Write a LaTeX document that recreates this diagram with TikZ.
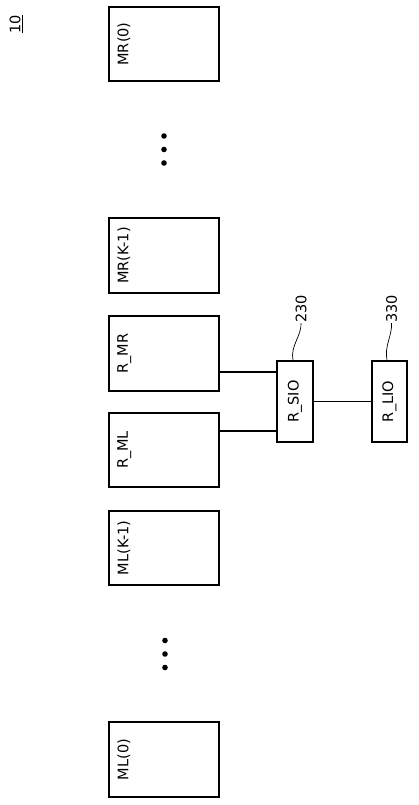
\documentclass[tikz,border=0pt]{standalone}
\usepackage{fontspec}
\setmainfont{DejaVu Sans}
\begin{document}
\begin{tikzpicture}[x=1pt,y=-1pt,
  box/.style={draw, line width=1.6pt, rectangle, inner sep=0pt},
  mem/.style={box, minimum width=110pt, minimum height=74.5pt},
  io/.style={box, minimum width=35.5pt, minimum height=81pt},
  lbl/.style={rotate=90, anchor=north, inner sep=0pt, font=\fontsize{14.5}{16}\selectfont},
  ctr/.style={rotate=90, inner sep=0pt, font=\fontsize{14.5}{16}\selectfont},
  wire/.style={line width=1.5pt},
  dot/.style={circle, fill, inner sep=0pt, minimum size=5.6pt}]
\useasboundingbox (0,0) rectangle (418,805);
% figure number
\node[ctr] (fig) at (16,24) {\underline{10}};
% memory blocks
\node[mem] (mr0) at (164,44) {};
\node[mem] (mrk) at (164,255.5) {};
\node[mem] (rmr) at (164,353.5) {};
\node[mem] (rml) at (164,450) {};
\node[mem] (mlk) at (164,548) {};
\node[mem] (ml0) at (164,759.5) {};
\node[lbl] at ([xshift=9pt]mr0.west) {MR(0)};
\node[lbl] at ([xshift=9pt]mrk.west) {MR(K-1)};
\node[lbl] at ([xshift=9pt]rmr.west) {R\_MR};
\node[lbl] at ([xshift=9pt]rml.west) {R\_ML};
\node[lbl] at ([xshift=9pt]mlk.west) {ML(K-1)};
\node[lbl] at ([xshift=9pt]ml0.west) {ML(0)};
% dots
\node[dot] (d1) at (164,136) {};
\node[dot] (d2) at (164,149.5) {};
\node[dot] (d3) at (164,163) {};
\node[dot] (d4) at (165,640.5) {};
\node[dot] (d5) at (165,654) {};
\node[dot] (d6) at (165,667.5) {};
% IO blocks
\node[io] (sio) at (295,401.5) {};
\node[io] (lio) at (389.5,401.5) {};
\node[ctr] at (sio.center) {R\_SIO};
\node[ctr] at (lio.center) {R\_LIO};
% connectors
\path ([yshift=-12pt]sio.north west) coordinate (s1);
\path ([yshift=12pt]sio.south west) coordinate (s2);
\draw[wire] (s1) -- (s1 -| rmr.east);
\draw[wire] (s2) -- (s2 -| rml.east);
\draw[wire] (sio.east) -- (lio.west);
% reference numerals
\node[ctr, anchor=west] (n230) at (301,323) {230};
\node[ctr, anchor=west] (n330) at (391.5,323) {330};
\draw[line width=0.7pt] ([xshift=-2pt]sio.north) .. controls +(-3,-14) and +(1,12) .. (n230.west);
\draw[line width=0.7pt] ([xshift=-2.5pt]lio.north) .. controls +(-3,-14) and +(1,12) .. (n330.west);
\end{tikzpicture}
\end{document}
